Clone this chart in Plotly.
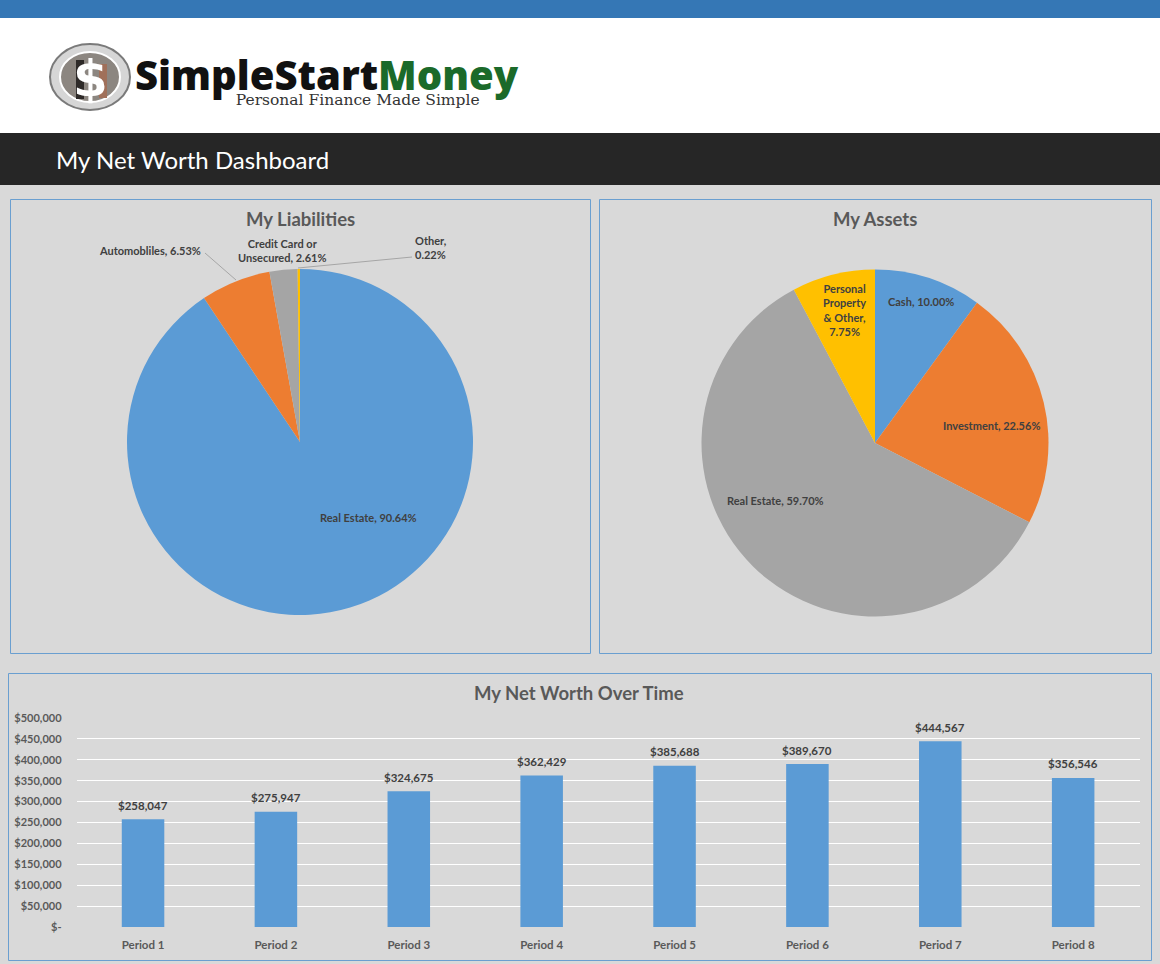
import plotly.graph_objects as go

W, H = 1160, 964

# ---------------- data ----------------
liab_labels = ["Real Estate", "Automobliles", "Credit Card or Unsecured", "Other"]
liab_values = [90.64, 6.53, 2.61, 0.22]

asset_labels = ["Cash", "Investment", "Real Estate", "Personal Property & Other"]
asset_values = [10.00, 22.56, 59.70, 7.75]

periods = ["Period 1", "Period 2", "Period 3", "Period 4",
           "Period 5", "Period 6", "Period 7", "Period 8"]
net_worth = [258047, 275947, 324675, 362429, 385688, 389670, 444567, 356546]

y_tickvals = [0, 50000, 100000, 150000, 200000, 250000, 300000, 350000, 400000, 450000, 500000]
y_ticktext = ["$-", "$50,000", "$100,000", "$150,000", "$200,000", "$250,000",
              "$300,000", "$350,000", "$400,000", "$450,000", "$500,000"]

pie_colors = ["#5b9bd5", "#ed7d31", "#a5a5a5", "#ffc000"]

# ---------------- helpers ----------------
def px(x):
    return x / W


def py(y):
    return 1 - y / H


FONT = "Lato, 'Open Sans', sans-serif"
GREY_TXT = "#595959"
DARK_TXT = "#404040"

fig = go.Figure()

# Liabilities pie
fig.add_trace(go.Pie(
    labels=liab_labels, values=liab_values, sort=False, direction="clockwise",
    rotation=0, marker=dict(colors=pie_colors, line=dict(width=0)),
    textinfo="none", hoverinfo="label+percent", showlegend=False, automargin=False,
    domain=dict(x=[px(127), px(473)], y=[py(615), py(269)]),
))

# Assets pie
fig.add_trace(go.Pie(
    labels=asset_labels, values=asset_values, sort=False, direction="clockwise",
    rotation=0, marker=dict(colors=pie_colors, line=dict(width=0)),
    textinfo="none", hoverinfo="label+percent", showlegend=False, automargin=False,
    domain=dict(x=[px(701.5), px(1048.5)], y=[py(616.5), py(269.5)]),
))

# Net worth bars
fig.add_trace(go.Bar(
    x=periods, y=net_worth, marker=dict(color="#5b9bd5", line=dict(width=0)),
    width=0.32, showlegend=False,
))

shapes = []
# background regions
shapes.append(dict(type="rect", xref="paper", yref="paper", x0=0, x1=1, y0=0, y1=1,
                   fillcolor="#d9d9d9", line=dict(width=0), layer="below"))
shapes.append(dict(type="rect", xref="paper", yref="paper", x0=0, x1=1, y0=py(133), y1=1,
                   fillcolor="#ffffff", line=dict(width=0), layer="below"))
shapes.append(dict(type="rect", xref="paper", yref="paper", x0=0, x1=1, y0=py(18), y1=1,
                   fillcolor="#3577b5", line=dict(width=0), layer="below"))
shapes.append(dict(type="rect", xref="paper", yref="paper", x0=0, x1=1, y0=py(185), y1=py(133),
                   fillcolor="#262626", line=dict(width=0), layer="below"))
# panel borders
for (x0, y0, x1, y1) in [(10.5, 199.5, 590.5, 653.5), (599.5, 199.5, 1151.5, 653.5),
                         (8.5, 673.5, 1151.5, 960.5)]:
    shapes.append(dict(type="rect", xref="paper", yref="paper", x0=px(x0), x1=px(x1),
                       y0=py(y1), y1=py(y0), fillcolor="rgba(0,0,0,0)",
                       line=dict(width=1, color="#6a9fd0"), layer="below"))
# logo emblem (silver ring around a photo disc)
shapes.append(dict(type="circle", xref="paper", yref="paper", x0=px(50), x1=px(130),
                   y0=py(110), y1=py(44), fillcolor="#d6d6d6",
                   line=dict(width=2, color="#7a7a7a")))
shapes.append(dict(type="circle", xref="paper", yref="paper", x0=px(60), x1=px(120),
                   y0=py(102), y1=py(52), fillcolor="#8c8680",
                   line=dict(width=2, color="#ffffff")))
shapes.append(dict(type="rect", xref="paper", yref="paper", x0=px(76), x1=px(84),
                   y0=py(99), y1=py(60), fillcolor="#2e2a28", line=dict(width=0)))
shapes.append(dict(type="rect", xref="paper", yref="paper", x0=px(99), x1=px(107),
                   y0=py(98), y1=py(64), fillcolor="#a0705a", line=dict(width=0)))
# leader lines
shapes.append(dict(type="line", xref="paper", yref="paper", x0=px(205), y0=py(253),
                   x1=px(236), y1=py(280), line=dict(width=1, color="#a6a6a6")))
shapes.append(dict(type="line", xref="paper", yref="paper", x0=px(412), y0=py(257),
                   x1=px(298), y1=py(268), line=dict(width=1, color="#a6a6a6")))

ann = []


def txt(x, y, s, size, color, weight="bold", xa="center", ya="middle", family=FONT, align="center"):
    ann.append(dict(x=px(x), y=py(y), xref="paper", yref="paper", text=s, showarrow=False,
                    xanchor=xa, yanchor=ya, align=align,
                    font=dict(family=family, size=size, color=color, weight=weight)))


# logo text (one two-line text block: brand name + slogan tucked under it)
txt(90, 79, "$", 50, "#ffffff", family="'DejaVu Sans', sans-serif")
logo = ("<span style='font-size:40px;font-weight:800'>SimpleStart"
        "<span style='color:#1b6a2a'>Money</span></span><br>"
        "<span style='font-size:19.4px'>" + "&nbsp;" * 20 + "</span>"
        "<span style='font-family:DejaVu Serif;font-size:15.5px;color:#333333;font-weight:normal'>"
        "Personal Finance Made Simple</span>")
txt(133, 78.5, logo, 11.2, "#111111", xa="left", align="left",
    family="'Open Sans', sans-serif", weight=800)
# header
txt(54, 160, "My Net Worth Dashboard", 24, "#ffffff", weight="normal", xa="left")
# panel titles
txt(300, 219, "My Liabilities", 18.5, GREY_TXT)
txt(875, 219, "My Assets", 18.5, GREY_TXT)
txt(579, 693, "My Net Worth Over Time", 18.5, GREY_TXT)

# liabilities labels
PS = 11
txt(203, 250.5, f"{liab_labels[1]}, {liab_values[1]:.2f}%", PS, DARK_TXT, xa="right")
txt(282, 251, f"Credit Card or<br>Unsecured, {liab_values[2]:.2f}%", PS, DARK_TXT)
txt(413, 247.5, f"{liab_labels[3]},<br>{liab_values[3]:.2f}%", PS, DARK_TXT, xa="left", align="left")
txt(368, 517, f"{liab_labels[0]}, {liab_values[0]:.2f}%", PS, DARK_TXT)

# assets labels
txt(921, 301, f"{asset_labels[0]}, {asset_values[0]:.2f}%", PS, DARK_TXT)
txt(991, 425, f"{asset_labels[1]}, {asset_values[1]:.2f}%", PS, DARK_TXT)
txt(775, 500, f"{asset_labels[2]}, {asset_values[2]:.2f}%", PS, DARK_TXT)
txt(844, 310, f"Personal<br>Property<br>& Other,<br>{asset_values[3]:.2f}%", PS, DARK_TXT)

# bar value labels (positioned by the data through the axes)
for p, v in zip(periods, net_worth):
    ann.append(dict(x=p, y=v, xref="x", yref="y", text=f"${v:,.0f}", showarrow=False,
                    xanchor="center", yanchor="middle", yshift=14,
                    font=dict(family=FONT, size=11.5, color=DARK_TXT, weight="bold")))

fig.update_layout(
    width=W, height=H, margin=dict(l=0, r=0, t=0, b=0, autoexpand=False),
    paper_bgcolor="#d9d9d9", plot_bgcolor="rgba(0,0,0,0)",
    shapes=shapes, annotations=ann, showlegend=False,
    xaxis=dict(domain=[px(76.6), px(1139.6)], showgrid=False, showline=False,
               ticks="", tickfont=dict(family=FONT, size=11.5, color=GREY_TXT, weight="bold"),
               anchor="y", fixedrange=True, automargin=False, ticklabelstandoff=9),
    yaxis=dict(domain=[py(927), py(718)], range=[0, 500000], tickvals=y_tickvals,
               ticktext=y_ticktext, showgrid=True, gridcolor="#ffffff", gridwidth=1,
               zeroline=False, showline=False, ticks="", ticklabelstandoff=14,
               tickfont=dict(family=FONT, size=11, color=GREY_TXT, weight="bold"),
               anchor="x", fixedrange=True, automargin=False),
)

fig.write_html("out.html")
